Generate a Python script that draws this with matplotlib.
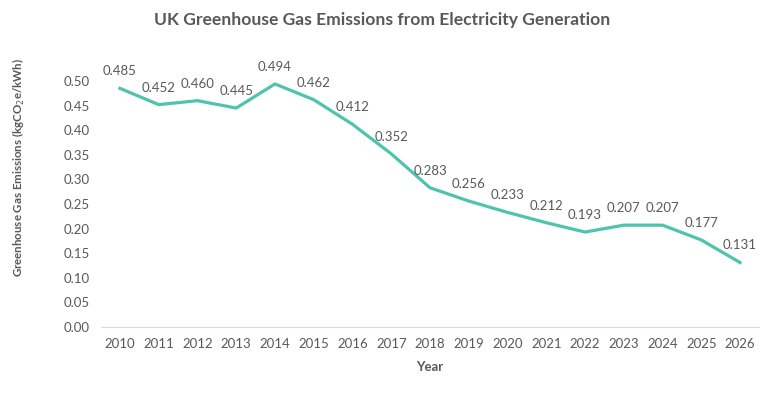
import matplotlib.pyplot as plt

years = ['2010', '2011', '2012', '2013', '2014', '2015', '2016', '2017', '2018',
         '2019', '2020', '2021', '2022', '2023', '2024', '2025', '2026']
emissions = [0.485, 0.452, 0.460, 0.445, 0.494, 0.462, 0.412, 0.352, 0.283,
             0.256, 0.233, 0.212, 0.193, 0.207, 0.207, 0.177, 0.131]

plt.rcParams['font.family'] = ['Lato', 'DejaVu Sans']
grey = '#595959'

fig = plt.figure(figsize=(7.65, 4), dpi=100)
ax = fig.add_axes([0.1315, 0.1825, 0.8612, 0.615])

x = list(range(len(years)))
ax.plot(x, emissions, color='#4EC3AE', linewidth=2.3, clip_on=False, solid_joinstyle='round')

for xi, v in zip(x, emissions):
    ax.annotate(f'{v:.3f}', (xi, v), xytext=(0, 8), textcoords='offset points',
                ha='center', va='bottom', fontsize=9.5, color=grey)

ax.set_xlim(-0.5, len(years) - 0.5)
ax.set_ylim(0, 0.5)
ax.set_xticks(x)
ax.set_xticklabels(years)
ax.set_yticks([i * 0.05 for i in range(11)])
ax.set_yticklabels([f'{i * 0.05:.2f}' for i in range(11)])
ax.tick_params(length=0, labelsize=9.5, colors=grey, pad=8)

for s in ['top', 'right', 'left']:
    ax.spines[s].set_visible(False)
ax.spines['bottom'].set_color('#D9D9D9')

ax.set_xlabel('Year', fontsize=9.5, fontweight='bold', color=grey, labelpad=8)
ax.set_ylabel('Greenhouse Gas Emissions (kgCO$_2$e/kWh)', fontsize=8.3,
              fontweight='bold', color=grey)
ax.yaxis.set_label_coords(-0.112, 0.65)
fig.suptitle('UK Greenhouse Gas Emissions from Electricity Generation',
             x=0.5, y=0.97, fontsize=12.6, fontweight='bold', color=grey)

fig.savefig('out.png', dpi=100)
